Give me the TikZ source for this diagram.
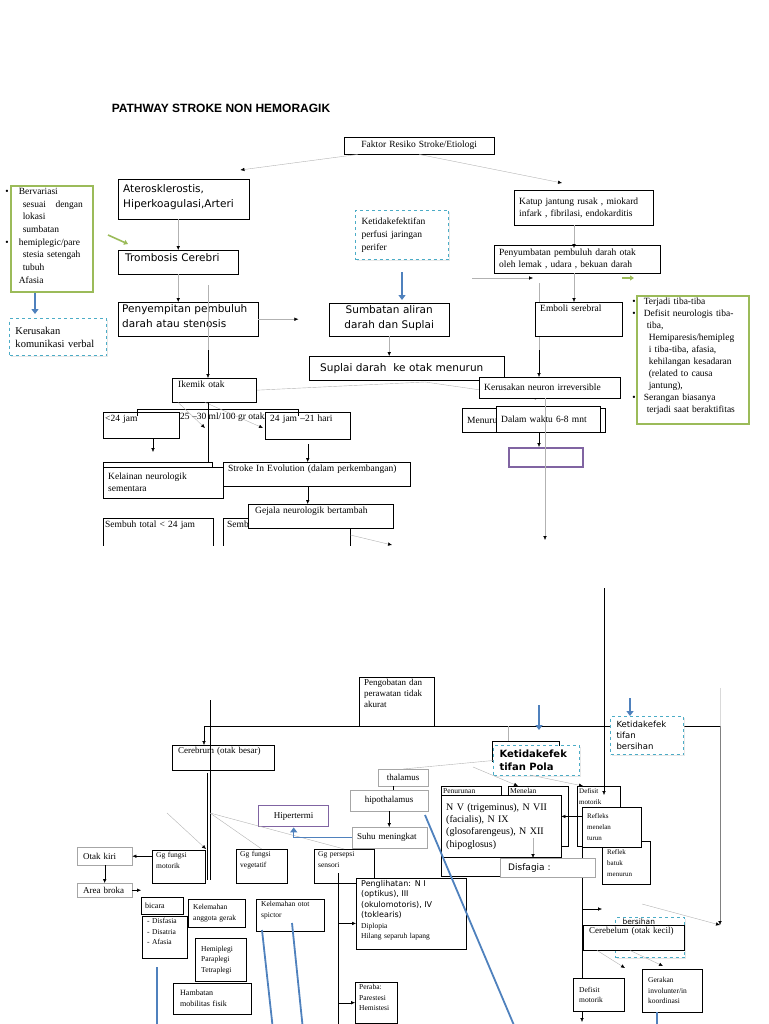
\documentclass[tikz,border=0pt]{standalone}
\usepackage{fontspec}
\setmainfont{Liberation Serif}
\newfontfamily\versans{DejaVu Sans}
\newfontfamily\arsans{Liberation Sans}
\usetikzlibrary{arrows.meta,shadows}

\definecolor{grn}{RGB}{155,187,89}
\definecolor{cyn}{RGB}{75,172,198}
\definecolor{bblue}{RGB}{79,129,189}
\definecolor{purp}{RGB}{128,100,162}

\newcommand{\fsSerif}{\fontsize{9.5}{12}\selectfont}
\newcommand{\fsBot}{\fontsize{9}{11}\selectfont}
\newcommand{\fsTiny}{\fontsize{7.5}{10.5}\selectfont}
\newcommand{\fsSans}{\versans\fontsize{10.5}{15}\selectfont}
\newcommand{\fsPen}{\versans\fontsize{8}{10.5}\selectfont}

\pgfdeclarelayer{back}
\pgfsetlayers{back,main}

\tikzset{
  tbox/.style={draw=black, fill=white, rectangle, inner sep=2pt, anchor=north west, align=left, font=\fsSerif},
  bbox/.style={tbox, font=\fsBot},
  tinybox/.style={tbox, font=\fsTiny},
  gybox/.style={tbox, draw=gray!70, font=\fsBot},
  dashbox/.style={tbox, draw=cyn, dashed, line width=1pt, drop shadow={shadow xshift=1.2pt, shadow yshift=-1.2pt, fill=gray!35}},
  grnbox/.style={tbox, draw=grn, line width=1.6pt, drop shadow={shadow xshift=1.5pt, shadow yshift=-1.5pt, fill=gray!40}},
  purbox/.style={tbox, draw=purp, line width=1.8pt},
  link/.style={draw=black, -{Latex[length=4pt,width=3.5pt]}},
  glink/.style={draw=gray!60, -{Latex[length=4pt,width=3.5pt,color=black]}},
  gline/.style={draw=gray!60},
  blink/.style={draw=bblue, line width=2.2pt, -{Triangle[length=5pt,width=7pt]}},
  bline/.style={draw=bblue, line width=1.8pt},
  grnlink/.style={draw=grn, line width=1.6pt, -{Triangle[length=4pt,width=5pt]}}
}

\begin{document}
\begin{tikzpicture}[x=1pt, y=-1pt]

	\useasboundingbox (0,0) rectangle (768,1024);

	\node[font=\arsans\bfseries\fontsize{12}{14}\selectfont] (title) at (221, 108) {PATHWAY STROKE NON HEMORAGIK};

	\begin{scope}
	\clip (0,0) rectangle (768,545);

	\node[tbox, text width=146pt, minimum height=17pt, align=center] (faktor) at (344, 137) {Faktor Resiko Stroke/Etiologi};

	\node[tbox, font=\fsSans, inner xsep=5pt, text width=121pt, text height=11pt, text depth=25pt] (athero) at (118, 179) {Aterosklerostis,\\Hiperkoagulasi,Arteri};
	\node[tbox, font=\fsSans, inner xsep=7pt, text width=106pt, text height=9pt, text depth=11pt] (trombosis) at (118, 250) {Trombosis Cerebri};
	\node[tbox, font=\fsSans, inner xsep=4pt, text width=132pt, text height=8pt, text depth=22pt] (penyempitan) at (118, 302) {Penyempitan pembuluh\\darah atau stenosis};

	\node[grnbox, font=\fontsize{9.5}{12.6}\selectfont, text width=78pt, text height=7pt, text depth=95pt] (grnL) at (10, 185)
	{\leavevmode\llap{\textbullet\hspace{4pt}}\hspace*{6pt}Bervariasi\\
	 \hspace*{10pt}sesuai\quad dengan\\
	 \hspace*{10pt}lokasi\\
	 \hspace*{10pt}sumbatan\\
	 \leavevmode\llap{\textbullet\hspace{4pt}}\hspace*{6pt}hemiplegic/pare\\
	 \hspace*{10pt}stesia setengah\\
	 \hspace*{10pt}tubuh\\
	 \hspace*{6pt}Afasia};
	\node[dashbox, font=\fontsize{10.5}{13}\selectfont, inner xsep=6pt, text width=85pt, minimum height=37pt] (kom) at (9, 318) {Kerusakan\\komunikasi verbal};

	\node[dashbox, font=\fontsize{9.5}{13}\selectfont, inner xsep=6pt, text width=81pt, minimum height=49pt] (perfusi) at (355, 210) {Ketidakefektifan\\perfusi jaringan\\perifer};
	\node[tbox, font=\fsSans, align=center, text width=116pt, text height=8pt, text depth=21pt] (sumbatan) at (329, 303) {Sumbatan aliran\\darah dan Suplai};
	\node[tbox, font=\fsSans, inner xsep=11pt, text width=173pt, minimum height=24pt] (suplai) at (309, 356) {Suplai darah\ \ ke otak menurun};

	\node[tbox, inner xsep=5pt, text width=129pt, minimum height=35pt] (katup) at (514, 190) {Katup jantung rusak , miokard\\infark , fibrilasi, endokarditis};
	\node[tbox, inner xsep=5pt, text width=156pt, minimum height=28pt] (penyumbatan) at (494, 245) {Penyumbatan pembuluh darah otak\\oleh lemak , udara , bekuan darah};
	\node[tbox, inner xsep=5pt, text width=77pt, text height=7pt, text depth=23pt] (emboli) at (535, 302) {Emboli serebral};

	\node[grnbox, text width=108pt, text height=7pt, text depth=117pt] (grnR) at (636, 295)
	{\leavevmode\llap{\textbullet\hspace{3pt}}\hspace*{5pt}Terjadi tiba-tiba\\
	 \leavevmode\llap{\textbullet\hspace{3pt}}\hspace*{5pt}Defisit neurologis tiba-\\
	 \hspace*{8pt}tiba,\\
	 \hspace*{10pt}Hemiparesis/hemipleg\\
	 \hspace*{10pt}i tiba-tiba, afasia,\\
	 \hspace*{10pt}kehilangan kesadaran\\
	 \hspace*{10pt}(related to causa\\
	 \hspace*{10pt}jantung),\\
	 \leavevmode\llap{\textbullet\hspace{3pt}}\hspace*{5pt}Serangan biasanya\\
	 \hspace*{8pt}terjadi saat beraktifitas};

	\node[tbox, inner xsep=5pt, text width=131pt, minimum height=21pt] (kneuron) at (479, 377) {Kerusakan neuron irreversible};
	\node[tbox, inner xsep=5pt, text width=133pt, minimum height=24pt] (menurun) at (462, 408) {Menurun};
	\node[tbox, inner xsep=5pt, text width=94pt, minimum height=26pt] (dalam) at (496, 406) {Dalam waktu 6-8 mnt};
	\node[purbox, minimum width=74pt, minimum height=19pt] (infark) at (508, 447) {};

	\node[tbox, inner xsep=6pt, text width=72pt, text height=7pt, text depth=13pt] (iskemik) at (172, 378) {Ikemik otak};
	\node[font=\fsSerif, anchor=north west, inner sep=0pt] (aliran) at (180, 413) {25 –30 ml/100 gr otak/};
	\node[tbox, text width=72pt, text height=7pt, text depth=15pt] (lt24) at (103, 412) {<24 jam};
	\node[tbox, inner xsep=5pt, text width=75pt, text height=7pt, text depth=16pt] (gt24) at (265, 412) {24 jam –21 hari};

	\node[tbox, minimum width=109pt, minimum height=28pt] (tia) at (103, 462) {};
	\node[tbox, inner xsep=5pt, text width=110pt, minimum height=31pt] (kelainan) at (103, 467) {Kelainan neurologik\\sementara};
	\node[tbox, inner xsep=5pt, text width=177pt, text height=7pt, text depth=13pt] (stroke) at (223, 462) {Stroke In Evolution (dalam perkembangan)};
	\node[tbox, inner xsep=4pt, text width=119pt, text height=7pt, text depth=29pt] (cacat) at (223, 518) {Sembuh dengan cacat};
	\node[tbox, inner xsep=7pt, text width=131pt, text height=7pt, text depth=13pt] (gejala) at (248, 504) {Gejala neurologik bertambah};
	\node[tbox, text width=106pt, text height=7pt, text depth=29pt] (sembuh) at (103, 518) {Sembuh total < 24 jam};

	\coordinate (ga1) at (108, 235);
	\coordinate (ga2) at (128, 244);
	\coordinate (bx) at (35, 0);
	\coordinate (x574) at (574, 0);
	\coordinate (x539) at (539, 0);
	\coordinate (x545) at (545, 0);
	\coordinate (ar1) at (472, 278);
	\coordinate (ar2) at (533, 278);
	\coordinate (ga3) at (622, 278);
	\coordinate (ga4) at (634, 278);
	\coordinate (e1) at (539, 283);
	\coordinate (e2) at (539, 350);
	\coordinate (e545) at (545, 540);
	\coordinate (bend1) at (425, 382);
	\coordinate (v1) at (208, 285);
	\coordinate (v2) at (208, 350);
	\coordinate (isk1) at (205, 428);
	\coordinate (isk2) at (263, 428);
	\coordinate (lt24e) at (153, 452);
	\coordinate (cc1) at (392, 545);
	\coordinate (br1) at (137, 416);
	\coordinate (br2) at (137, 409);
	\coordinate (br3) at (298, 409);
	\coordinate (br4) at (298, 416);

	\begin{pgfonlayer}{back}
	\draw[gline] (e1) -- (e2);
	\draw[glink] (iskemik.east) -- (bend1) -- (kneuron.south -| x539);
	\end{pgfonlayer}

	\draw[glink] ([xshift=14pt]faktor.south west) -- ([xshift=-9pt,yshift=9pt]athero.north east);
	\draw[glink] (faktor.south) -- ([xshift=48pt,yshift=7pt]katup.north west);
	\draw[glink] (athero.south -| trombosis.north) -- (trombosis.north);
	\draw[glink] (trombosis.south) -- (trombosis.south |- penyempitan.north);
	\draw[glink] (penyempitan.east) -- ([xshift=40pt]penyempitan.east);
	\draw[glink] (sumbatan.south) -- (sumbatan.south |- suplai.north);
	\draw[blink] ([yshift=-12pt]perfusi.south) -- ([yshift=3pt]perfusi.south |- sumbatan.north);
	\draw[grnlink] (ga1) -- (ga2);
	\draw[blink] (grnL.south -| bx) -- ([yshift=4pt]kom.north -| bx);

	\draw[glink] (katup.south -| x574) -- ([yshift=-3pt]penyumbatan.north -| x574);
	\draw[glink] (penyumbatan.south -| x574) -- (emboli.north -| x574);
	\draw[glink] (ar1) -- (ar2);
	\draw[grnlink] (ga3) -- (ga4);
	\draw[link] (e2) -- (kneuron.north -| e2);
	\draw[link] (dalam.south -| x539) -- (infark.north -| x539);
	\draw[glink] (kneuron.south -| x545) -- (e545);

	\draw[gline] (v1) -- (v2);
	\draw[link] (v2) -- (iskemik.north -| v2);
	\draw (br1) -- (br2) -- (br3) -- (br4);
	\draw[glink] ([xshift=6pt]iskemik.south west) -- (isk1);
	\draw[glink] ([xshift=33pt]iskemik.south west) -- (isk2);
	\draw (iskemik.south -| v1) -- (tia.north -| v1);
	\draw[link] (lt24.south -| lt24e) -- (lt24e);
	\draw[link] ([yshift=-5pt]gt24.south) -- (stroke.north -| gt24.south);
	\draw[link] (stroke.south -| gt24.south) -- (gejala.north -| gt24.south);
	\draw[glink] ([yshift=-17pt]cacat.north east) -- (cc1);

	\end{scope}

	\coordinate (t604) at (604, 588);
	\coordinate (e604) at (604, 795);
	\coordinate (h204) at (204, 726);
	\coordinate (h720) at (720, 726);
	\coordinate (t720) at (720, 688);
	\coordinate (e720) at (720, 925);
	\coordinate (t582) at (582, 843);
	\coordinate (e582) at (582, 1022);
	\coordinate (a909) at (582, 909);
	\coordinate (b909) at (602, 909);

	\draw (h720) -- (h204);
	\draw[draw=gray!30] (t720) -- (h720);
	\draw[draw=gray, -{Latex[length=4pt,width=3.5pt,color=black]}] (h720) -- (e720);
	\draw[link] (t582) -- (e582);
	\draw[link] (a909) -- (b909);

	\node[bbox, inner xsep=5pt, text width=65pt, text height=6.5pt, text depth=38.5pt] (pengobatan) at (359, 677) {Pengobatan dan\\perawatan tidak\\akurat};
	\node[tbox, minimum width=67pt, minimum height=20pt] (polab) at (492, 741) {};
	\node[dashbox, font=\versans\bfseries\fontsize{10}{13}\selectfont, inner xsep=6pt, text width=74pt, minimum height=30pt] (polad) at (493, 745) {Ketidakefek\\tifan Pola};
	\node[dashbox, font=\versans\fontsize{8.5}{11.3}\selectfont, inner xsep=6pt, text width=61pt, minimum height=38pt] (bersihan) at (610, 716) {Ketidakefek\\tifan\\bersihan};

	\node[bbox, inner xsep=6pt, text width=90pt, text height=6.5pt, text depth=14.5pt] (cerebrum) at (172, 745) {Cerebrum (otak besar)};
	\node[gybox, align=center, text width=46pt, minimum height=17pt] (thalamus) at (378, 769) {thalamus};
	\node[gybox, align=center, text width=74pt, minimum height=21pt] (hipothalamus) at (350, 790) {hipothalamus};
	\node[gybox, inner xsep=5pt, text width=65pt, minimum height=21pt] (suhu) at (352, 827) {Suhu meningkat};
	\node[purbox, line width=1.4pt, font=\fsBot, align=center, text width=66pt, minimum height=21pt] (hiper) at (258, 805) {Hipertermi};

	\node[tinybox, text width=56pt, text height=5.5pt, text depth=80.5pt] (penurunan) at (441, 786) {Penurunan};
	\node[tinybox, text width=56pt, text height=5.5pt, text depth=50.5pt] (menelan) at (508, 786) {Menelan};
	\node[tbox, font=\fontsize{7}{11}\selectfont, text width=39pt, text height=5.5pt, text depth=50.5pt] (defisitA) at (577, 786) {Defisit\\motorik};
	\node[tbox, font=\fontsize{10}{12.3}\selectfont, inner xsep=5pt, text width=110pt, minimum height=62pt] (nv) at (441, 795) {N V (trigeminus), N VII\\(facialis), N IX\\(glosofarengeus), N XII\\(hipoglosus)};
	\node[gybox, font=\versans\fontsize{9}{11}\selectfont, inner xsep=8pt, text width=79pt, minimum height=19pt] (disfagia) at (500, 858) {Disfagia :};
	\node[tbox, font=\fontsize{7}{11}\selectfont, inner xsep=5pt, text width=38pt, minimum height=43pt] (batuk) at (602, 841) {Reflek\\batuk\\menurun};
	\node[tbox, font=\fontsize{7}{11}\selectfont, inner xsep=5pt, text width=49pt, minimum height=40pt] (refleks) at (582, 807) {Refleks\\menelan\\turun};

	\node[gybox, inner xsep=6pt, text width=43pt, minimum height=18pt] (otakkiri) at (77, 847) {Otak kiri};
	\node[gybox, inner xsep=6pt, text width=43pt, minimum height=14pt] (broka) at (77, 883) {Area broka};
	\node[tinybox, inner xsep=4pt, text width=45pt, text height=5.5pt, text depth=23.5pt] (motorik) at (152, 850) {Gg fungsi\\motorik};
	\node[tbox, font=\fontsize{8}{10}\selectfont, inner xsep=4pt, text width=34pt, minimum height=17pt] (bicara) at (141, 897) {bicara};
	\node[tinybox, inner xsep=5pt, text width=35pt, text height=5.5pt, text depth=32.5pt] (afasia) at (142, 916) {- Disfasia\\- Disatria\\- Afasia};
	\node[tinybox, inner xsep=5pt, text width=47pt, minimum height=28pt] (kelemahan) at (188, 899) {Kelemahan\\anggota gerak};
	\node[tinybox, inner xsep=6pt, text width=39pt, minimum height=43pt] (hemiplegi) at (195, 938) {Hemiplegi\\Paraplegi\\Tetraplegi};
	\node[tbox, font=\fontsize{8}{11}\selectfont, inner xsep=7pt, text width=64pt, minimum height=31pt] (hambatan) at (173, 983) {Hambatan\\mobilitas fisik};
	\node[tinybox, inner xsep=4pt, text width=43pt, text height=5.5pt, text depth=24.5pt] (vegetatif) at (236, 849) {Gg fungsi\\vegetatif};
	\node[tinybox, inner xsep=5pt, text width=58pt, text height=5.5pt, text depth=22.5pt] (spictor) at (256, 899) {Kelemahan otot\\spictor};
	\node[tinybox, inner xsep=4pt, text width=52pt, text height=5.5pt, text depth=24.5pt] (persepsi) at (314, 849) {Gg persepsi\\sensori};
	\node[tinybox, inner xsep=5pt, text width=100pt, text height=6pt, text depth=61pt] (penglihatan) at (356, 878)
	{{\fsPen Penglihatan: N I}\\{\fsPen (optikus), III}\\{\fsPen (okulomotoris), IV}\\{\fsPen (toklearis)}\\Diplopia\\Hilang separuh lapang};
	\node[tinybox, inner xsep=4pt, text width=34pt, text height=5.5pt, text depth=31.5pt] (peraba) at (355, 982) {Peraba:\\Parestesi\\Hemistesi};

	\node[dashbox, font=\versans\fontsize{7.5}{9}\selectfont, inner xsep=7pt, text width=55pt, text height=5pt, text depth=31pt] (bersihanB) at (615, 917) {bersihan};
	\node[bbox, inner xsep=6pt, text width=89pt, text height=6.5pt, text depth=14.5pt] (cerebelum) at (583, 925) {Cerebelum (otak kecil)};
	\node[tinybox, inner xsep=6pt, text width=39pt, minimum height=33pt] (defisitB) at (573, 978) {Defisit\\motorik};
	\node[tinybox, inner xsep=6pt, text width=48pt, minimum height=43pt] (gerakan) at (642, 969) {Gerakan\\involunter/in\\koordinasi};

	\coordinate (t210) at (210, 700);
	\coordinate (e210) at (210, 880);
	\coordinate (t207) at (207, 773);
	\coordinate (e207) at (207, 880);
	\coordinate (f0) at (210, 813);
	\coordinate (f1) at (167, 813);
	\coordinate (f2) at (206, 849);
	\coordinate (bp1) at (539, 705);
	\coordinate (bp2) at (539, 730);
	\coordinate (bp3) at (630, 698);
	\coordinate (x508) at (508, 0);
	\coordinate (x338) at (338, 0);
	\coordinate (pg1) at (473, 767);
	\coordinate (pg2) at (530, 775);
	\coordinate (ds1) at (533, 838);
	\coordinate (bd1) at (425, 815);
	\coordinate (bd2) at (516, 1030);
	\coordinate (gc1) at (642, 904);
	\coordinate (ce1) at (625, 968);
	\coordinate (ce2) at (663, 966);
	\coordinate (gb1) at (657, 1030);
	\coordinate (sv1) at (338, 873);
	\coordinate (sv2) at (338, 1030);
	\coordinate (bl1) at (157, 967);
	\coordinate (bl2) at (157, 1030);
	\coordinate (bl3) at (262, 930);
	\coordinate (bl4) at (273, 1030);
	\coordinate (bl5) at (292, 923);
	\coordinate (bl6) at (303, 1030);

	\draw[link] (h204) -- (cerebrum.north -| h204);
	\draw (t210) -- (e210);
	\draw (t207) -- (e207);
	\draw[glink] (f1) -- (f2);
	\draw[gline] (f0) -- (vegetatif.north);
	\draw[gline] (f0) -- (persepsi.north);

	\draw[blink] (bp1) -- (bp2);
	\draw[blink] (bp3) -- (bersihan.north -| bp3);
	\draw[gline] (h204 -| x508) -- (polab.north -| x508);
	\draw[gline] (polad.west) -- (thalamus.north);
	\draw[glink] (pg1) -- ([xshift=10pt]menelan.north west);
	\draw[glink] (pg2) -- ([xshift=6pt]defisitA.north west);
	\draw[link] (t604) -- (e604);

	\draw ([xshift=-10pt]thalamus.south) -- ([xshift=-10pt]thalamus.south |- hipothalamus.north);
	\draw[link] (hipothalamus.south) -- (suhu.north -| hipothalamus.south);
	\draw[blink, line width=1.4pt] (suhu.west) -| (hiper.south);
	\draw[glink] (ds1) -- (disfagia.north -| ds1);
	\draw[link] (refleks.160) -- (refleks.160 -| nv.east);

	\draw[glink] (gc1) -- (e720);
	\draw[glink] ([xshift=14pt]cerebelum.south west) -- (ce1);
	\draw[glink] ([xshift=47pt]cerebelum.south west) -- (ce2);

	\draw[link] (motorik.west |- otakkiri.east) -- (otakkiri.east);
	\draw[link] (otakkiri.south) -- (broka.north);
	\draw[link] (broka.east) -- (broka.east -| bicara.west);
	\draw (sv1) -- (sv2);
	\draw[link] (penglihatan.190 -| x338) -- (penglihatan.190);
	\draw[link] (peraba.west -| x338) -- (peraba.west);

	\draw[bline] (bd1) -- (bd2);
	\draw[bline] (bl1) -- (bl2);
	\draw[bline] (bl3) -- (bl4);
	\draw[bline] (bl5) -- (bl6);
	\draw[bline] ([xshift=15pt]gerakan.south west) -- (gb1);

\end{tikzpicture}
\end{document}
